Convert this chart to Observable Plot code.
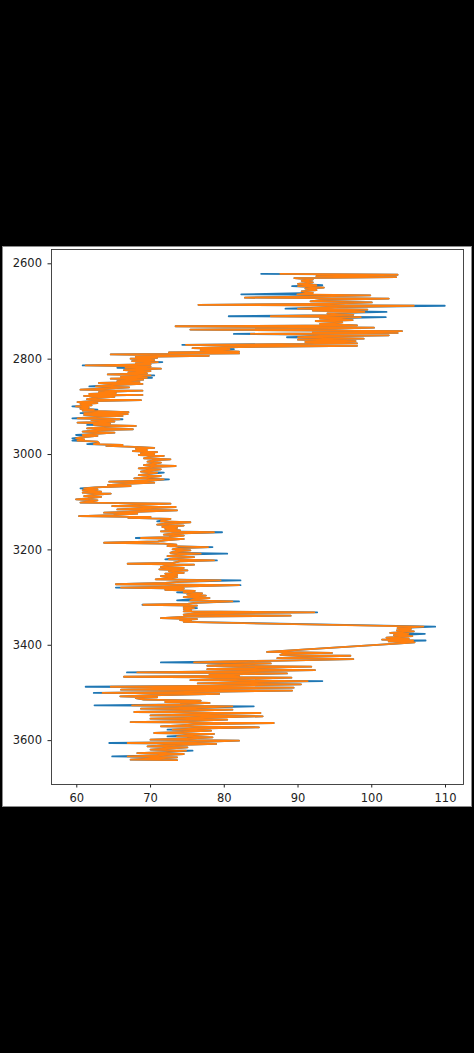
<!DOCTYPE html>
<html><head><meta charset="utf-8">
<script src="https://cdn.jsdelivr.net/npm/d3@7"></script>
<script src="https://cdn.jsdelivr.net/npm/@observablehq/plot@0.6"></script>
<style>
html,body{margin:0;padding:0;background:#000;width:474px;height:1053px;overflow:hidden;}
#fig{position:absolute;left:2px;top:246px;width:468px;height:559px;background:#fff;border:1px solid #8c8c8c;}
#fig svg{display:block;}
</style></head><body><div id="fig"></div>
<script>
const xTicks = [60, 70, 80, 90, 100, 110];
const yTicks = [2600, 2800, 3000, 3200, 3400, 3600];

const depth = [
2621,2623,2626,2628,2630,2633,2636,2639,2642,2645,
2647,2650,2652,2655,2658,2661,2664,2666,2669,2671,
2673,2676,2679,2681,2684,2686,2688,2691,2694,2696,
2698,2701,2704,2707,2710,2712,2715,2718,2720,2723,
2726,2729,2731,2734,2736,2738,2741,2743,2745,2747,
2750,2752,2754,2757,2759,2762,2764,2767,2770,2772,
2775,2777,2779,2781,2784,2786,2788,2790,2793,2795,
2797,2799,2802,2804,2806,2809,2811,2813,2815,2818,
2820,2823,2825,2828,2830,2832,2834,2837,2839,2841,
2843,2846,2848,2850,2852,2855,2857,2859,2862,2864,
2866,2869,2871,2873,2875,2877,2879,2882,2884,2886,
2888,2890,2892,2894,2897,2899,2901,2904,2906,2908,
2911,2913,2915,2917,2919,2921,2924,2926,2928,2931,
2933,2935,2938,2940,2942,2945,2947,2949,2952,2954,
2957,2959,2961,2964,2966,2968,2971,2973,2976,2978,
2980,2982,2984,2986,2988,2991,2993,2995,2997,2999,
3001,3003,3005,3008,3010,3012,3015,3017,3020,3022,
3024,3026,3029,3031,3034,3036,3038,3041,3043,3045,
3048,3050,3052,3055,3057,3059,3062,3064,3066,3069,
3071,3073,3075,3078,3080,3082,3085,3087,3089,3092,
3094,3096,3099,3101,3103,3106,3108,3110,3113,3115,
3117,3120,3122,3124,3127,3129,3131,3133,3135,3138,
3140,3142,3145,3147,3149,3152,3154,3156,3159,3161,
3163,3166,3168,3170,3173,3175,3177,3180,3182,3185,
3187,3189,3192,3194,3196,3199,3201,3203,3206,3208,
3210,3213,3215,3217,3220,3222,3224,3227,3229,3231,
3234,3236,3238,3241,3243,3245,3248,3250,3253,3255,
3257,3260,3262,3264,3267,3269,3272,3274,3277,3279,
3281,3284,3286,3289,3291,3294,3296,3299,3301,3303,
3306,3308,3311,3313,3315,3317,3320,3322,3324,3327,
3329,3331,3333,3336,3338,3340,3343,3345,3347,3349,
3351,3361,3364,3366,3369,3371,3374,3376,3379,3381,
3384,3386,3388,3390,3392,3394,3396,3414,3416,3418,
3420,3422,3425,3427,3429,3432,3434,3436,3438,3441,
3443,3445,3448,3450,3452,3455,3457,3459,3462,3464,
3466,3468,3471,3473,3475,3478,3480,3482,3485,3487,
3489,3491,3493,3495,3498,3500,3502,3505,3507,3509,
3511,3514,3516,3519,3521,3524,3526,3528,3531,3533,
3535,3538,3540,3542,3545,3547,3549,3552,3554,3556,
3559,3561,3563,3566,3568,3570,3572,3575,3577,3579,
3582,3584,3586,3589,3591,3593,3596,3598,3600,3603,
3605,3607,3610,3612,3614,3617,3619,3621,3624,3626,
3628,3631,3633,3635,3638,3640,3641
];

const blueLog = [
85.0,103.5,92.5,103.3,89.5,92,90.5,92,90,93.3,
89.2,93.5,91,92.5,90.5,92,82.3,99.8,91,82.8,
102.3,93,91.7,100,93,76.5,109.9,95,88.3,99.4,
92,102,94,97.5,80.6,101.9,93,97.4,92.4,96,
93,98,73.4,100.3,95,75.4,104.1,92,103.5,81.3,
102.3,93,88.5,98.9,90,97.8,91,98,74.3,98,
80,75.7,81.3,76.8,82,72.5,82,64.6,77.9,68,
70.9,67.3,70.5,67.5,71.6,68,70,60.8,70,65.5,
71.4,66.4,70,67,69.5,64.2,70.5,66,70.2,64.6,
69,65.5,68.5,63,68.9,64,61.7,67.1,63.5,60.5,
68.9,63,65.3,61.7,68.9,61,65.1,62,61.4,68.7,
62,60.1,62.8,60.5,62,59.4,61.6,60.5,62.8,60.8,
67,60.5,66.9,61,66.2,63,59.4,66.2,62,65.1,
60.1,64.5,61.4,68,64,61.4,67.6,63,60.8,65.1,
62,59.9,62.8,60.5,59.4,61,59.4,62.8,63,61.4,
66.2,64,67.8,70.5,68,69.5,67.6,70.9,68.7,70.5,
68.4,71.8,70,69.1,72.7,70.5,69.6,71.4,70,69.1,
73.4,70.5,68.4,71.4,69.5,68.7,71.8,69.5,68.4,71.4,
69.5,67.8,72.5,69.5,64.4,70.5,66,64.2,67.3,62.5,
60.5,62.8,60.8,63.3,60.8,64.6,62,61,63.3,61.5,
59.9,62.8,61.5,60.5,72.7,68,64.8,73.4,69,65.5,
73.6,68,63.7,68.2,65,60.3,70,67,72.7,71.5,
70.9,75.4,72,70.9,74.5,71.6,73.6,72,74,71.4,
79.7,73,71.8,74.5,72.5,68,74.5,72,71,63.7,
71.8,73.5,72.3,78.4,74,73,75.4,73.5,72.7,80.4,
74,72.3,75.9,73.5,72,79,74,73,66.9,75.9,
72,71.4,74.5,71.2,75,72.5,74.5,72,73.6,71.4,
73.6,72,70.7,82.2,74,72,65.3,82.2,74,65.3,
74.5,72,76,73.6,77,75,77.5,74.5,78,76,
73.6,82,76,75,68.9,76.3,74.5,76.3,74.5,75.5,
74.5,92.6,76,74.5,89,75,71.4,76.3,74,75.5,
74.5,108.6,103.5,105.3,103.4,105.7,102.5,107.2,103,105.5,
102,105,101.4,107.3,102.3,105.8,103.9,85.8,94.6,88,
87.6,97.1,90,87.2,97.5,88,80,71.4,86.3,80,
77.7,91.8,82,77.7,92.3,80,66.8,88.5,78,82,
66.4,89.1,80,75.4,93.3,82,76.4,90.4,78,61.2,
89.4,72,66,89.2,75,62.3,79.3,70,65.9,70.9,
68,69.1,76.8,72,78,74,62.4,84,76,68.7,
81.1,74,67.8,84.9,76,70,85.2,77,70,80.4,
75,67.3,86.7,76,74,71.4,84.7,76,72.3,78.2,
74,70.5,78.6,75,72.3,78.4,75,70,82,76,
64.4,78.9,72,69.6,75,72,70,75.7,72,68.2,
74.5,71,64.8,73.6,70,67.3,73.6
];

const orangeLog = [
87.6,103.5,92.5,103.3,89.5,92,90.5,92,90,92.5,
90,93.5,91,92.5,90.5,92,89.9,99.8,91,82.8,
102.3,93,91.7,100,93,76.5,105.7,95,90,99.4,
92,99,94,97.5,86.3,98.5,93,97.4,92.4,96,
93,98,73.4,100.3,95,75.4,104.1,92,103.5,83.6,
102.3,93,90,98.9,90,97.8,91,98,74.8,98,
80,75.7,80.7,76.8,82,72.5,82,64.6,77.9,68,
70.9,67.3,70.5,67.5,71,68,70,61.2,70,66.6,
71.4,66.4,70,67,69.5,64.2,70,66,69.5,64.6,
69,65.5,68.5,63,68.9,64,62.6,67.1,63.5,60.5,
68.9,63,65.3,61.7,68.9,61,65.1,62,61.4,68.7,
62,60.1,62.8,60.5,62,59.9,61.6,60.5,62.3,60.8,
67,61,66.9,61,66.2,63,60.1,65.8,62,65.1,
60.1,64.5,62.3,68,64,61.4,67.6,63,60.8,65.1,
62,60.8,62.8,60.5,59.9,61,60.1,62.8,63,62.3,
66.2,64,67.8,70.5,68,69.5,67.6,70.9,68.7,70.5,
68.4,71.8,70,69.1,72.7,70.5,69.6,71.4,70,69.1,
73.4,70.5,68.4,71.4,69.5,68.7,70.9,69.5,68.4,71.4,
69.5,67.8,71.8,69.5,64.4,70.5,66,64.2,67.3,62.5,
61,62.8,60.8,63.3,60.8,64.6,62,61,63.3,61.5,
59.9,62.8,61.5,60.5,72.7,68,64.8,73.4,69,65.5,
73.6,68,63.7,68.2,65,60.3,70,67,72.7,71.5,
71.4,75.4,72,70.9,74.5,71.6,73.6,72,74,71.4,
78.6,73,71.8,74.5,72.5,68.7,74.5,72,71,63.7,
71.8,73.5,72.3,77.8,74,73,75.4,73.5,72.7,76.8,
74,72.3,75.9,73.5,72.5,78.6,74,73,66.9,75.9,
72,71.4,74.5,71.2,75,72.5,74.5,72,73.6,71.4,
73.6,72,70.7,79.5,74,72,65.3,82,74,66,
74.5,72,76,74.5,77,75,77.5,74.5,78,76,
75.4,81.1,76,75,69,76.3,74.5,75.9,74.5,75.5,
74.5,92.2,76,74.5,89,75,71.4,76.3,74,75.5,
74.5,107,103.5,105.3,103.4,105.7,102.5,105,103,105.5,
102,105,101.4,105.6,102.3,105.8,103.9,85.8,94.6,88,
87.6,97.1,90,87.2,97.5,88,80,75.9,86.3,80,
77.7,91.8,82,77.7,92.3,80,68.2,88.5,78,82,
66.4,89.1,80,75.4,91.3,82,76.4,90.4,78,64.6,
89.4,72,66,89.2,75,63.5,79.3,70,65.9,70.9,
68,69.1,76.8,72,78,74,67.5,81.1,76,68.7,
81.1,74,67.8,84.9,76,70,85.2,77,70,80.4,
75,67.3,86.7,76,74,71.4,84.7,76,73,78.2,
74,70.5,78.6,75,73.6,78.4,75,70,82,76,
66.9,78.9,72,69.6,75,72,70,74.8,72,68.2,
74.5,71,66.9,73.6,70,67.3,73.6
];

const rows = depth.map((d, i) => ({depth: d, blue: blueLog[i], orange: orangeLog[i]}));

const chart = Plot.plot({
  width: 468,
  height: 559,
  marginLeft: 48,
  marginRight: 8,
  marginTop: 2,
  marginBottom: 22,
  style: {background: "#fff", fontFamily: "'DejaVu Sans', sans-serif", fontSize: "11.5px", color: "#222"},
  x: {domain: [56.57, 112.44], ticks: xTicks, tickFormat: d => String(d), label: null, tickSize: 3.5, tickPadding: 6},
  y: {domain: [2570, 3692], reverse: true, ticks: yTicks, tickFormat: d => String(d), label: null, tickSize: 3.5, tickPadding: 6},
  marks: [
    Plot.line(rows, {x: "blue", y: "depth", stroke: "#1f77b4", strokeWidth: 1.8}),
    Plot.line(rows, {x: "orange", y: "depth", stroke: "#ff7f0e", strokeWidth: 1.8}),
    Plot.frame({stroke: "#333", strokeWidth: 0.9})
  ]
});
document.getElementById("fig").appendChild(chart);
</script>
</body></html>
